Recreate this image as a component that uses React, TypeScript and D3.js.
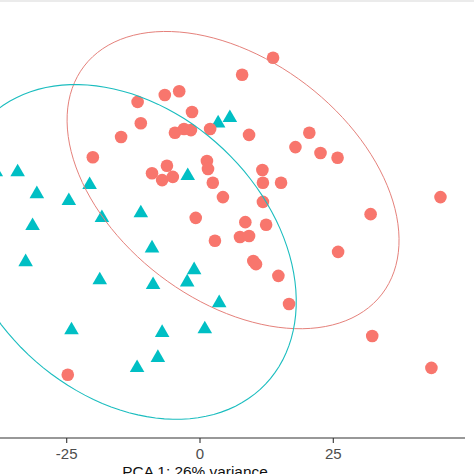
import { useMemo } from "react";
import * as d3 from "d3";

// PCA scores (PC1, PC2)
const groupAx = [13.7, 7.9, -6.6, -3.9, -11.7, -1.5, -11.1, -14.8, -20.1, -4.7, -3.0, -1.7, 1.9, 9.2, 20.5, 17.9, 22.6, 25.8, 1.3, 1.5, 2.4, 4.3, 11.7, 11.8, 15.2, 11.8, -9.0, -6.2, -7.1, -5.1, -0.8, 8.5, 12.4, 2.8, 7.5, 9.2, 10.0, 10.5, 14.7, 16.7, 32.0, 45.1, 25.9, 32.3, 43.4, -24.8];
const groupAy = [30.5, 27.3, 23.5, 24.2, 22.2, 20.3, 18.2, 15.6, 11.8, 16.4, 17.1, 16.9, 17.1, 16.0, 16.4, 13.7, 12.6, 11.7, 11.1, 9.6, 7.0, 4.3, 9.4, 7.0, 7.0, 3.4, 8.8, 10.2, 7.5, 8.1, 0.4, -0.4, -0.9, -3.9, -3.2, -3.0, -7.7, -8.3, -10.5, -15.8, 1.1, 4.3, -6.0, -21.8, -27.8, -29.1];

const groupBx = [3.4, 5.6, -2.3, -34.2, -38.3, -30.6, -24.6, -20.7, -18.4, -11.1, -31.4, -9.0, -32.7, -18.8, -8.8, -1.1, -2.4, 3.6, -24.1, -7.1, 0.9, -7.9, -11.8];
const groupBy = [18.2, 19.2, 8.3, 9.0, 9.0, 4.9, 3.6, 6.6, 0.4, 1.3, -1.1, -5.3, -7.9, -11.3, -12.2, -9.4, -11.7, -15.6, -20.7, -21.2, -20.5, -25.9, -27.8];

// 95% ellipses: centre x, centre y, semi-major, semi-minor, angle (deg)
const ellipseA = [6.2, 7.5, 35.2, 22.6, -37.5];
const ellipseB = [-13.9, -6.0, 36.1, 26.6, -43.5];

const xTicks = [-25, 0, 25];
const xTitle = "PCA 1: 26% variance";

const RED = "#F8766D";
const TEAL = "#00BFC4";

function ellipsePoints([cx, cy, a, b, deg]: number[]): [number, number][] {
  const phi = (deg * Math.PI) / 180;
  return d3.range(0, 120).map((i) => {
    const t = (i / 120) * 2 * Math.PI;
    const u = a * Math.cos(t);
    const v = b * Math.sin(t);
    return [
      cx + u * Math.cos(phi) - v * Math.sin(phi),
      cy + u * Math.sin(phi) + v * Math.cos(phi),
    ];
  });
}

export default function App() {
  const width = 474;
  const height = 474;
  const axisY = 438;

  const x = d3.scaleLinear().domain([-25, 25]).range([66.7, 333.3]);
  const y = d3.scaleLinear().domain([0, 10]).range([220, 166.8]);

  const { pathA, pathB, tri } = useMemo(() => {
    const line = d3
      .line<[number, number]>()
      .x((d) => x(d[0]))
      .y((d) => y(d[1]))
      .curve(d3.curveLinearClosed);
    return {
      pathA: line(ellipsePoints(ellipseA)) ?? "",
      pathB: line(ellipsePoints(ellipseB)) ?? "",
      tri: d3.symbol(d3.symbolTriangle, 92)() ?? "",
    };
  }, []);

  const font = "'Liberation Sans', Arial, sans-serif";

  return (
    <div style={{ position: "fixed", left: 0, top: 0 }}>
      <svg width={width} height={height} style={{ display: "block", background: "#fff" }}>
        <rect x={0} y={0} width={width} height={2} fill="#ebebeb" />

        {groupBx.map((v, i) => (
          <path
            key={`b${i}`}
            d={tri}
            transform={`translate(${x(v)},${y(groupBy[i])})`}
            fill={TEAL}
          />
        ))}
        {groupAx.map((v, i) => (
          <circle key={`a${i}`} cx={x(v)} cy={y(groupAy[i])} r={6.3} fill={RED} />
        ))}

        <path d={pathA} fill="none" stroke="#E5817B" strokeWidth={1} />
        <path d={pathB} fill="none" stroke="#1BBDBF" strokeWidth={1.1} />

        <line x1={0} x2={465} y1={axisY} y2={axisY} stroke="#333" strokeWidth={1.2} />
        {xTicks.map((t) => (
          <g key={t} transform={`translate(${x(t)},0)`}>
            <line y1={axisY} y2={axisY + 5} stroke="#333" strokeWidth={1.1} />
            <text
              y={459}
              textAnchor="middle"
              fontFamily={font}
              fontSize={15}
              fill="#4d4d4d"
            >
              {t}
            </text>
          </g>
        ))}
        <text
          x={195}
          y={477}
          textAnchor="middle"
          fontFamily={font}
          fontSize={15.4}
          fill="#111"
        >
          {xTitle}
        </text>
      </svg>
    </div>
  );
}
